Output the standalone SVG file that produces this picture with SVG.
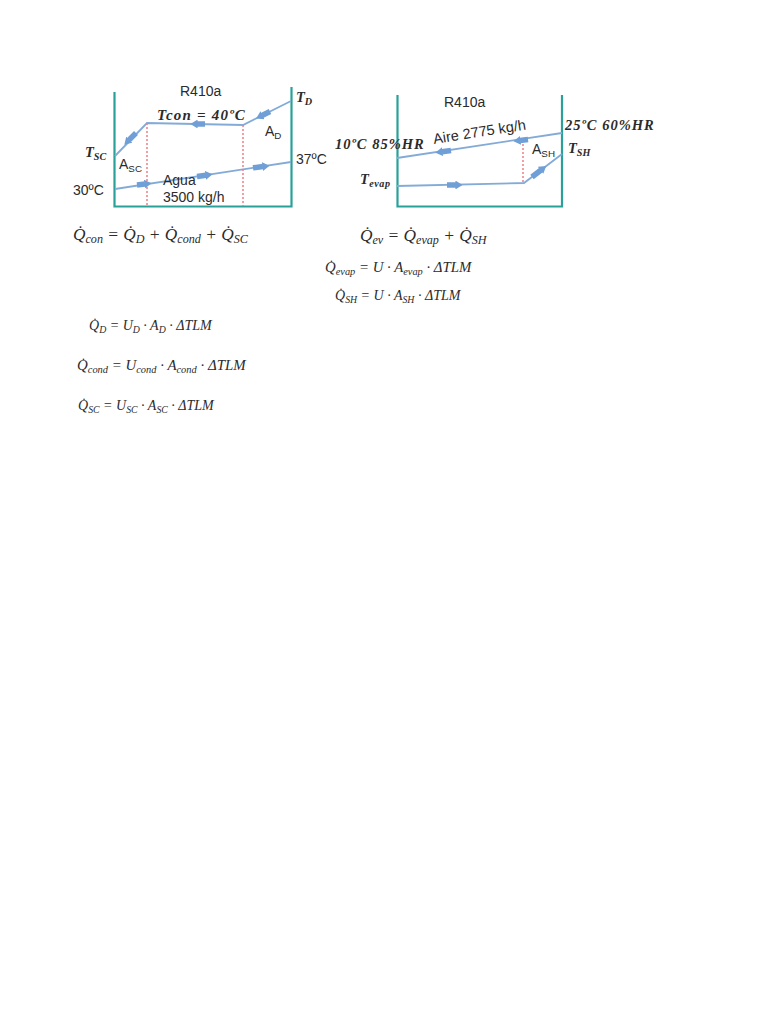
<svg xmlns="http://www.w3.org/2000/svg" width="768" height="1024" viewBox="0 0 768 1024">
<style>
.ax{fill:none;stroke:#2aa198;stroke-width:2.2}
.cv{fill:none;stroke:#84abd8;stroke-width:1.8}
.dot{fill:none;stroke:#ee7f86;stroke-width:1.5;stroke-dasharray:2 2}
.ar{fill:none;stroke:#6f9fd6;stroke-width:5.500;marker-end:url(#h)}
text{fill:#2b2b2b}
.s{font-family:"Liberation Sans",Arial,sans-serif;font-size:14px}
.b{font-family:"Liberation Serif","Times New Roman",serif;font-style:italic;font-weight:bold;font-size:14.500px;letter-spacing:1px}
.e{font-family:"Liberation Serif","Times New Roman",serif;font-style:italic;font-size:17.300px}
.q{font-family:"Liberation Serif","Times New Roman",serif;font-style:italic;font-size:14px}
.u{font-size:70%}
</style>
<defs>
<marker id="h" markerWidth="1.3" markerHeight="1.6" refX="0.1" refY="0.8" orient="auto"><path d="M0 0L1.3 0.8L0 1.6Z" fill="#6f9fd6"/></marker>
</defs>
<g id="connectors">
<path class="ax" d="M114.500 92V206.500H291.500V87"/>
<path class="ax" d="M397.500 95V206.500H562V95"/>
<path class="cv" d="M291 101L243 125L147 123L115 156"/>
<path class="cv" d="M115 189L291 162"/>
<path class="cv" d="M397 158L562 133"/>
<path class="cv" d="M397 186L524 183L562 154"/>
<path class="dot" d="M147 123V206M243 125V206M523 140V183"/>
<path class="ar" d="M270 111.500L262 115.500"/>
<path class="ar" d="M205 124L197 124"/>
<path class="ar" d="M136 133L129 140"/>
<path class="ar" d="M137 185L145 184"/>
<path class="ar" d="M197 176.500L206 175.200"/>
<path class="ar" d="M253 167.800L263 166.500"/>
<path class="ar" d="M451 150.500L442 151.800"/>
<path class="ar" d="M528 139.500L520 140.500"/>
<path class="ar" d="M447 185L456 185"/>
<path class="ar" d="M532 177L541 170"/>
</g>
<g id="left-labels">
<text class="s" x="180" y="96">R410a</text>
<text class="b" x="157" y="120" style="font-size:15px;letter-spacing:1.200px">Tcon = 40ºC</text>
<text class="b" x="296" y="102" style="letter-spacing:0">T<tspan class="u" dy="3">D</tspan></text>
<text class="s" x="265" y="136">A<tspan class="u" dy="3">D</tspan></text>
<text class="b" x="85" y="157" style="letter-spacing:0">T<tspan class="u" dy="3">SC</tspan></text>
<text class="s" x="119" y="169">A<tspan class="u" dy="3">SC</tspan></text>
<text class="s" x="296" y="164">37ºC</text>
<text class="s" x="73" y="195">30ºC</text>
<text class="s" x="163" y="185">Agua</text>
<text class="s" x="163" y="202">3500 kg/h</text>
</g>
<g id="right-labels">
<text class="s" x="444" y="107">R410a</text>
<text class="s" transform="translate(434 144) rotate(-9)" style="font-size:14.500px">Aire 2775 kg/h</text>
<text class="b" x="335" y="149">10ºC 85%HR</text>
<text class="b" x="565" y="130">25ºC 60%HR</text>
<text class="s" x="532" y="154">A<tspan class="u" dy="3">SH</tspan></text>
<text class="b" x="568" y="153" style="letter-spacing:0">T<tspan class="u" dy="3">SH</tspan></text>
<text class="b" x="360" y="184" style="letter-spacing:.5px">T<tspan class="u" dy="3">evap</tspan></text>
</g>
<g id="equations">
<text class="e" x="73" y="240">Q̇<tspan class="u" dy="3">con</tspan><tspan dy="-3"> = Q̇</tspan><tspan class="u" dy="3">D</tspan><tspan dy="-3"> + Q̇</tspan><tspan class="u" dy="3">cond</tspan><tspan dy="-3"> + Q̇</tspan><tspan class="u" dy="3">SC</tspan></text>
<text class="e" x="360" y="241">Q̇<tspan class="u" dy="3">ev</tspan><tspan dy="-3"> = Q̇</tspan><tspan class="u" dy="3">evap</tspan><tspan dy="-3"> + Q̇</tspan><tspan class="u" dy="3">SH</tspan></text>
<text class="q" x="325" y="272" style="font-size:14.800px">Q̇<tspan class="u" dy="3">evap</tspan><tspan dy="-3"> = U · A</tspan><tspan class="u" dy="3">evap</tspan><tspan dy="-3"> · ΔTLM</tspan></text>
<text class="q" x="335" y="300">Q̇<tspan class="u" dy="3">SH</tspan><tspan dy="-3"> = U · A</tspan><tspan class="u" dy="3">SH</tspan><tspan dy="-3"> · ΔTLM</tspan></text>
<text class="q" x="89" y="330">Q̇<tspan class="u" dy="3">D</tspan><tspan dy="-3"> = U</tspan><tspan class="u" dy="3">D</tspan><tspan dy="-3"> · A</tspan><tspan class="u" dy="3">D</tspan><tspan dy="-3"> · ΔTLM</tspan></text>
<text class="q" x="77" y="370" style="font-size:14.900px">Q̇<tspan class="u" dy="3">cond</tspan><tspan dy="-3"> = U</tspan><tspan class="u" dy="3">cond</tspan><tspan dy="-3"> · A</tspan><tspan class="u" dy="3">cond</tspan><tspan dy="-3"> · ΔTLM</tspan></text>
<text class="q" x="78" y="410">Q̇<tspan class="u" dy="3">SC</tspan><tspan dy="-3"> = U</tspan><tspan class="u" dy="3">SC</tspan><tspan dy="-3"> · A</tspan><tspan class="u" dy="3">SC</tspan><tspan dy="-3"> · ΔTLM</tspan></text>
</g>
</svg>
